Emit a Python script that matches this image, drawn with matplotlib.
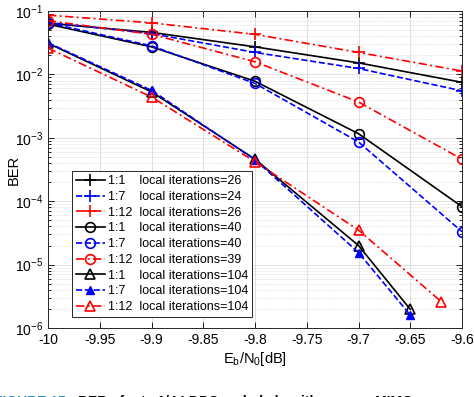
import matplotlib
matplotlib.use('Agg')
import matplotlib.pyplot as plt
from matplotlib.ticker import LogLocator, NullFormatter, FixedLocator

plt.rcParams['font.family'] = ['Liberation Sans', 'DejaVu Sans']

# Eb/N0 points
ebn0 = [-10, -9.9, -9.8, -9.7, -9.6]
ebn0_tri_a = [-10, -9.9, -9.8, -9.7, -9.65]
ebn0_tri_b = [-10, -9.9, -9.8, -9.7, -9.62]

# local iterations 26/24/26
ber_11_26 = [0.064, 0.046, 0.0272, 0.0152, 0.0075]
ber_17_24 = [0.066, 0.044, 0.0222, 0.0124, 0.0055]
ber_112_26 = [0.086, 0.065, 0.0428, 0.0222, 0.0113]
# local iterations 40/40/39
ber_11_40 = [0.062, 0.0272, 0.0078, 0.00116, 8.2e-5]
ber_17_40 = [0.065, 0.0282, 0.0072, 0.00086, 3.3e-5]
ber_112_39 = [0.070, 0.043, 0.0158, 0.00367, 4.6e-4]
# local iterations 104
ber_11_104 = [0.031, 0.0053, 4.6e-4, 2.0e-5, 1.97e-6]
ber_17_104 = [0.0316, 0.0056, 4.5e-4, 1.55e-5, 1.6e-6]
ber_112_104 = [0.026, 0.0044, 4.2e-4, 3.5e-5, 2.6e-6]

xticks = [-10, -9.95, -9.9, -9.85, -9.8, -9.75, -9.7, -9.65, -9.6]
xticklabels = ['-10', '-9.95', '-9.9', '-9.85', '-9.8', '-9.75', '-9.7', '-9.65', '-9.6']

fig = plt.figure(figsize=(4.74, 3.97), dpi=100)
ax = fig.add_axes([0.1013, 0.1738, 0.8734, 0.7985])

dashdot = (0, (5, 2, 1.2, 2))
lw = 1.2
ms = 7
ax.plot(ebn0, ber_11_26, color='black', ls='-', lw=lw, marker='+', ms=ms + 2, mew=1.2,
        label='1:1    local iterations=26')
ax.plot(ebn0, ber_17_24, color='blue', ls='--', lw=lw, marker='+', ms=ms + 2, mew=1.2,
        label='1:7    local iterations=24')
ax.plot(ebn0, ber_112_26, color='red', ls=dashdot, lw=lw, marker='+', ms=ms + 2, mew=1.2,
        label='1:12  local iterations=26')
ax.plot(ebn0, ber_11_40, color='black', ls='-', lw=lw, marker='o', ms=ms, mfc='none', mew=1.2,
        label='1:1    local iterations=40')
ax.plot(ebn0, ber_17_40, color='blue', ls='--', lw=lw, marker='o', ms=ms, mfc='none', mew=1.2,
        label='1:7    local iterations=40')
ax.plot(ebn0, ber_112_39, color='red', ls=dashdot, lw=lw, marker='o', ms=ms, mfc='none', mew=1.2,
        label='1:12  local iterations=39')
ax.plot(ebn0_tri_a, ber_11_104, color='black', ls='-', lw=lw, marker='^', ms=ms, mfc='none', mew=1.2,
        label='1:1    local iterations=104')
ax.plot(ebn0_tri_a, ber_17_104, color='blue', ls='--', lw=lw, marker='^', ms=ms - 1, mew=1.0,
        label='1:7    local iterations=104')
ax.plot(ebn0_tri_b, ber_112_104, color='red', ls=dashdot, lw=lw, marker='^', ms=ms, mfc='none', mew=1.2,
        label='1:12  local iterations=104')

ax.set_yscale('log')
ax.set_xlim(-10, -9.6)
ax.set_ylim(1e-6, 1e-1)
ax.xaxis.set_major_locator(FixedLocator(xticks))
ax.set_xticklabels(xticklabels)
ax.yaxis.set_major_locator(LogLocator(base=10, numticks=10))
ax.yaxis.set_minor_locator(LogLocator(base=10, subs=range(2, 10), numticks=20))
ax.yaxis.set_minor_formatter(NullFormatter())

ax.grid(True, which='major', color='#d9d9d9', lw=0.6, ls='-')
ax.grid(True, which='minor', axis='y', color='#cccccc', lw=0.5, ls=':')
ax.set_axisbelow(True)

ax.tick_params(which='both', direction='in', top=True, right=True, labelsize=10, width=0.6)
ax.tick_params(which='major', length=4)
ax.tick_params(which='minor', length=2)
for s in ax.spines.values():
    s.set_linewidth(0.7)
    s.set_color('#262626')

ax.set_xlabel(r'E$_\mathregular{b}$/N$_\mathregular{0}$[dB]', fontsize=10.5, labelpad=2)
ax.set_ylabel('BER', fontsize=10.5)
ax.yaxis.set_label_coords(-0.066, 0.5)

leg = ax.legend(loc='lower left', bbox_to_anchor=(0.058, 0.035), fontsize=9, handlelength=2.3,
                handletextpad=0.3, labelspacing=0.3, borderpad=0.3, borderaxespad=0,
                fancybox=False, framealpha=1, edgecolor='#262626')
leg.get_frame().set_linewidth(0.7)

# caption, mostly cut off at the bottom edge
fig.text(-0.012, 0.004, 'FIGURE 15.', color='#1f8fb5', fontsize=10, fontweight='bold', va='top')
fig.text(0.165, 0.004, 'BER of rate 1/4 LDPC coded algorithms over MIMO', fontsize=10,
         fontweight='bold', va='top')

fig.savefig('out.png', dpi=100)
